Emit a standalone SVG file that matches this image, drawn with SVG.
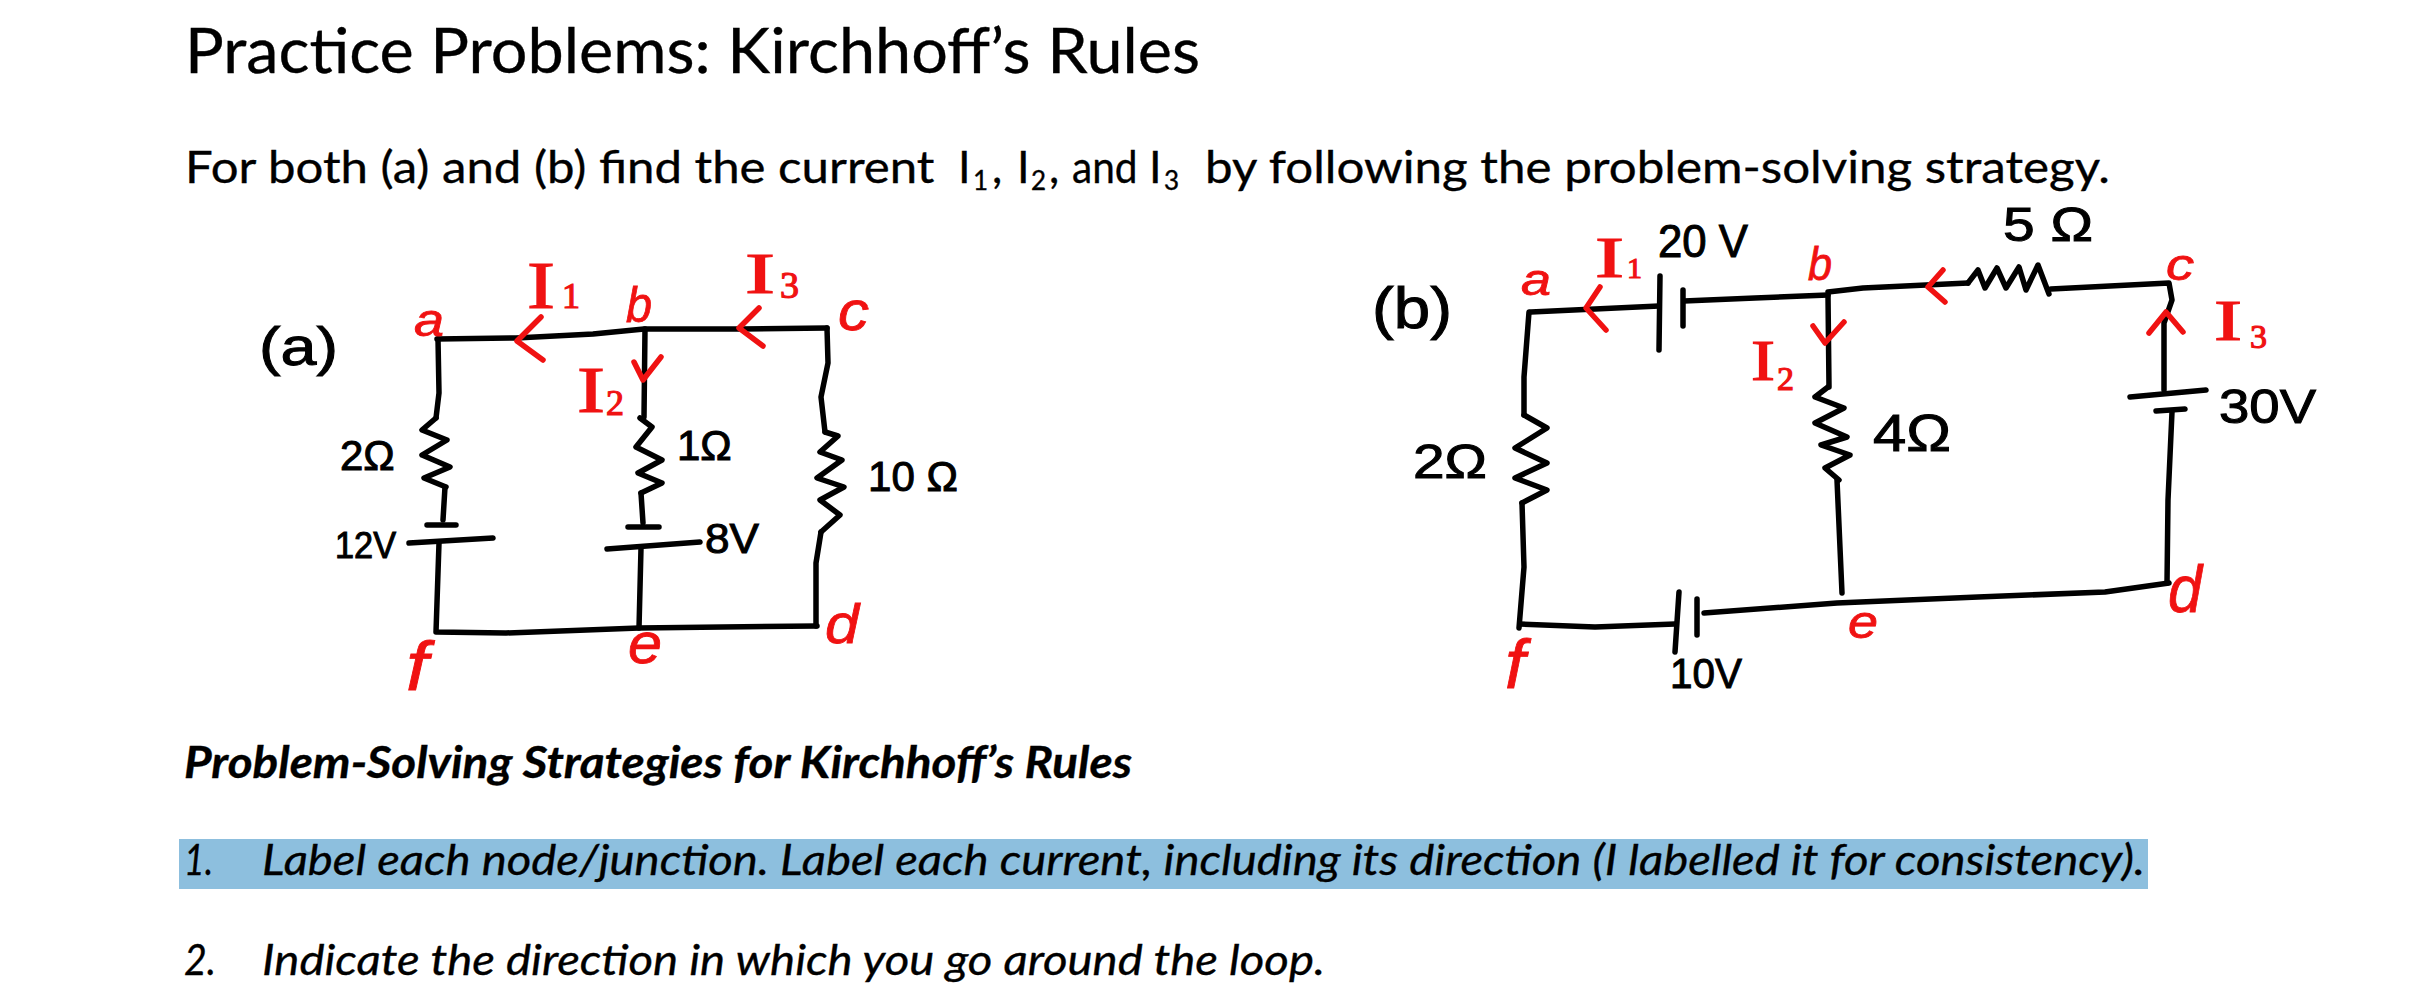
<svg xmlns="http://www.w3.org/2000/svg" width="2425" height="1001" viewBox="0 0 2425 1001">
<style>
.doc{font-family:Lato,"Open Sans","Liberation Sans",sans-serif;fill:#000;stroke:#000;stroke-width:.35}
.w{fill:none;stroke:#000;stroke-width:5.5;stroke-linecap:round;stroke-linejoin:round}
.r{fill:none;stroke:#f01212;stroke-width:5.5;stroke-linecap:round;stroke-linejoin:round}
.h{font-family:"Liberation Sans",Arial,sans-serif;fill:#000;stroke:#000;stroke-width:1}
.n{font-family:"Liberation Sans",Arial,sans-serif;font-style:italic;fill:#f01212;stroke:#f01212;stroke-width:.8}
.i{font-family:"Liberation Serif","Times New Roman",serif;fill:#f01212;stroke:#f01212;stroke-width:1.2}
</style>
<rect width="2425" height="1001" fill="#fff"/>
<g id="heading">
<text class="doc" x="185" y="73" font-size="62" textLength="1015" lengthAdjust="spacingAndGlyphs">Practice Problems: Kirchhoff’s Rules</text>
<text class="doc" font-size="45"><tspan x="185" y="183" textLength="762" lengthAdjust="spacingAndGlyphs">For both (a) and (b) find the current </tspan><tspan x="958" y="183">I</tspan><tspan x="973" y="190" font-size="26">1</tspan><tspan x="992" y="183">, </tspan><tspan x="1017" y="183">I</tspan><tspan x="1031" y="190" font-size="26">2</tspan><tspan x="1049" y="183">, </tspan><tspan x="1072" y="183" textLength="76" lengthAdjust="spacingAndGlyphs">and </tspan><tspan x="1149" y="183">I</tspan><tspan x="1164" y="190" font-size="26">3 </tspan><tspan x="1205" y="183" textLength="905" lengthAdjust="spacingAndGlyphs">by following the problem-solving strategy.</tspan></text>
</g>
<g id="connectors">
<path class="w" d="M437 339L516 338L593 334L644 329L741 329L827 328"/>
<path class="w" d="M438 339L439 393L436 418"/>
<path class="w" d="M445 487L443 520"/>
<path class="w" d="M439 543L436 632L506 633L639 628L817 626"/>
<path class="w" d="M827 328L828 363L821 397L825 432"/>
<path class="w" d="M821 532L816 563L816 626"/>
<path class="w" d="M645 329L644 417"/>
<path class="w" d="M641 493L643 523"/>
<path class="w" d="M641 548L639 628"/>
<path class="w" d="M1531 312L1659 306"/>
<path class="w" d="M1529 312L1524 377L1524 415"/>
<path class="w" d="M1684 301L1755 298L1828 295"/>
<path class="w" d="M1828 292L1863 288L1968 283"/>
<path class="w" d="M2051 289L2169 283L2172 300L2164 323L2164 390"/>
<path class="w" d="M2172 412L2168 500L2167 583"/>
<path class="w" d="M2169 583L2105 592L1978 597L1837 603L1704 613"/>
<path class="w" d="M1675 624L1595 627L1520 624"/>
<path class="w" d="M1522 503L1524 567L1519 628"/>
<path class="w" d="M1828 295L1829 387"/>
<path class="w" d="M1837 480L1842 593"/>
</g>
<g id="circuit-a">
<text class="h" x="259" y="365" font-size="54" stroke-width="0" textLength="79" lengthAdjust="spacingAndGlyphs">(a)</text>
<g id="a-r1"><path class="w" d="M436 418L422 430L447 440L422 455L450 467L424 478L446 487"/><text class="h" x="340" y="470" font-size="42">2Ω</text></g>
<g id="a-r2"><path class="w" d="M640 418L652 427L636 447L662 460L638 473L662 483L641 493"/><text class="h" x="677" y="460" font-size="42">1Ω</text></g>
<g id="a-r3"><path class="w" d="M825 432L838 436L820 452L842 460L817 478L844 487L820 500L840 515L821 532"/><text class="h" x="868" y="491" font-size="42" textLength="90" lengthAdjust="spacingAndGlyphs">10 Ω</text></g>
<g id="a-b1"><path class="w" d="M427 525L456 525M409 543L493 538"/><text class="h" x="335" y="558" font-size="36" textLength="61" lengthAdjust="spacingAndGlyphs">12V</text></g>
<g id="a-b2"><path class="w" d="M628 527L659 527M607 549L700 542"/><text class="h" x="705" y="553" font-size="42" textLength="54" lengthAdjust="spacingAndGlyphs">8V</text></g>
<g id="a-currents">
<path class="r" d="M541 317L517 341L543 360"/>
<path class="r" d="M759 308L739 328L763 346"/>
<path class="r" d="M634 362L643 380L661 357"/>
<text class="i" y="308" font-size="68"><tspan x="527" textLength="28" lengthAdjust="spacingAndGlyphs">I</tspan><tspan x="562" font-size="36">1</tspan></text>
<text class="i" y="293" font-size="58"><tspan x="745" textLength="30" lengthAdjust="spacingAndGlyphs">I</tspan><tspan x="780" y="298" font-size="38">3</tspan></text>
<text class="i" y="412" font-size="66"><tspan x="577" textLength="28" lengthAdjust="spacingAndGlyphs">I</tspan><tspan x="606" y="415" font-size="36">2</tspan></text>
</g>
<g id="a-nodes">
<text class="n" x="414" y="336" font-size="46" textLength="30" lengthAdjust="spacingAndGlyphs">a</text>
<text class="n" x="626" y="322" font-size="50" textLength="26" lengthAdjust="spacingAndGlyphs">b</text>
<text class="n" x="838" y="330" font-size="56" textLength="31" lengthAdjust="spacingAndGlyphs">c</text>
<text class="n" x="825" y="643" font-size="56" textLength="34" lengthAdjust="spacingAndGlyphs">d</text>
<text class="n" x="628" y="663" font-size="58" textLength="34" lengthAdjust="spacingAndGlyphs">e</text>
<text class="n" x="406" y="690" font-size="68" textLength="22" lengthAdjust="spacingAndGlyphs">f</text>
</g>
</g>
<g id="circuit-b">
<text class="h" x="1372" y="328" font-size="58" stroke-width="0" textLength="80" lengthAdjust="spacingAndGlyphs">(b)</text>
<g id="b-bat20"><path class="w" d="M1660 276L1659 350M1683 290L1683 326"/><text class="h" x="1658" y="257" font-size="46" textLength="90" lengthAdjust="spacingAndGlyphs">20 V</text></g>
<g id="b-r5"><path class="w" d="M1968 283L1978 270L1985 288L1997 268L2006 288L2019 267L2026 290L2038 265L2049 294"/><text class="h" x="2003" y="241" font-size="48" textLength="90" lengthAdjust="spacingAndGlyphs">5 Ω</text></g>
<g id="b-r4"><path class="w" d="M1828 387L1815 397L1844 408L1815 423L1847 437L1821 445L1850 455L1825 468L1839 480"/><text class="h" x="1873" y="451" font-size="52" textLength="78" lengthAdjust="spacingAndGlyphs">4Ω</text></g>
<g id="b-r2"><path class="w" d="M1524 415L1547 428L1515 448L1547 463L1515 478L1547 490L1522 503"/><text class="h" x="1413" y="478" font-size="48" textLength="74" lengthAdjust="spacingAndGlyphs">2Ω</text></g>
<g id="b-bat30"><path class="w" d="M2130 397L2206 390M2156 411L2185 409"/><text class="h" x="2219" y="423" font-size="48" textLength="97" lengthAdjust="spacingAndGlyphs">30V</text></g>
<g id="b-bat10"><path class="w" d="M1697 599L1697 635M1679 592L1675 652"/><text class="h" x="1670" y="688" font-size="43" textLength="72" lengthAdjust="spacingAndGlyphs">10V</text></g>
<g id="b-currents">
<path class="r" d="M1600 287L1586 308L1606 330"/>
<path class="r" d="M1943 270L1928 287L1945 302"/>
<path class="r" d="M1813 326L1825 343L1844 322"/>
<path class="r" d="M2149 333L2166 312L2183 332"/>
<text class="i" y="277" font-size="56"><tspan x="1595" textLength="29" lengthAdjust="spacingAndGlyphs">I</tspan><tspan x="1627" y="278" font-size="30">1</tspan></text>
<text class="i" y="380" font-size="56"><tspan x="1751" textLength="24" lengthAdjust="spacingAndGlyphs">I</tspan><tspan x="1777" y="390" font-size="34">2</tspan></text>
<text class="i" y="340" font-size="56"><tspan x="2214" textLength="28" lengthAdjust="spacingAndGlyphs">I</tspan><tspan x="2250" y="348" font-size="34">3</tspan></text>
</g>
<g id="b-nodes">
<text class="n" x="1521" y="295" font-size="44" textLength="30" lengthAdjust="spacingAndGlyphs">a</text>
<text class="n" x="1808" y="280" font-size="46" textLength="24" lengthAdjust="spacingAndGlyphs">b</text>
<text class="n" x="2166" y="280" font-size="44" textLength="28" lengthAdjust="spacingAndGlyphs">c</text>
<text class="n" x="2168" y="612" font-size="66" textLength="34" lengthAdjust="spacingAndGlyphs">d</text>
<text class="n" x="1848" y="638" font-size="46" textLength="30" lengthAdjust="spacingAndGlyphs">e</text>
<text class="n" x="1505" y="688" font-size="68" textLength="20" lengthAdjust="spacingAndGlyphs">f</text>
</g>
</g>
<g id="strategies">
<rect x="179" y="839" width="1969" height="50" fill="#8dbfde"/>
<text class="doc" x="184" y="778" font-size="44" font-weight="700" font-style="italic" textLength="948" lengthAdjust="spacingAndGlyphs">Problem-Solving Strategies for Kirchhoff’s Rules</text>
<text class="doc" x="184" y="875" font-size="43" font-style="italic"><tspan textLength="29" lengthAdjust="spacingAndGlyphs">1.</tspan><tspan x="262" textLength="1883" lengthAdjust="spacingAndGlyphs">Label each node/junction. Label each current, including its direction (I labelled it for consistency).</tspan></text>
<text class="doc" x="184" y="975" font-size="43" font-style="italic"><tspan textLength="32" lengthAdjust="spacingAndGlyphs">2.</tspan><tspan x="262" textLength="1063" lengthAdjust="spacingAndGlyphs">Indicate the direction in which you go around the loop.</tspan></text>
</g>
</svg>
